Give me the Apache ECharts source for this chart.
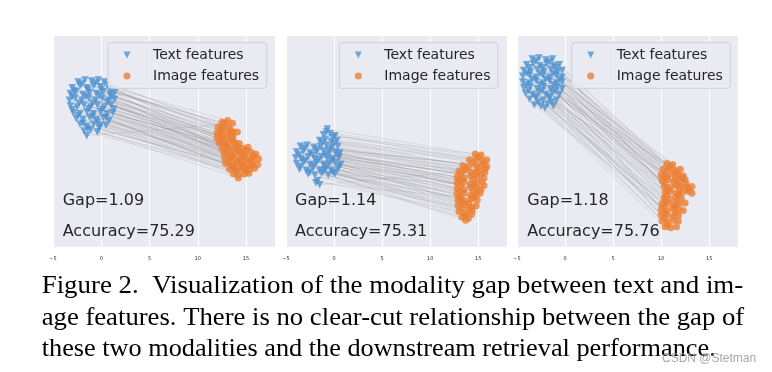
<!DOCTYPE html>
<html><head><meta charset="utf-8">
<script src="https://cdn.jsdelivr.net/npm/echarts@6/dist/echarts.min.js"></script>
<style>html,body{margin:0;padding:0;background:#fff}#c{width:772px;height:372px}</style>
</head><body><div id="c"></div>
<script>
// ---------- data ----------
const xTicks = [-5, 0, 5, 10, 15];
const seriesNames = ['Text features', 'Image features'];
const gapLabels = ['Gap=1.09', 'Gap=1.14', 'Gap=1.18'];
const accLabels = ['Accuracy=75.29', 'Accuracy=75.31', 'Accuracy=75.76'];

const p1Text = [
 [-2.4,17.2],[-1.7,17.4],[-1.0,17.3],[-0.3,17.4],[0.3,17.2],
 [-3.0,16.6],[-2.2,16.8],[-1.5,16.6],[-0.8,16.8],[-0.1,16.7],[0.6,16.9],[1.1,16.5],
 [-3.2,16.0],[-2.6,16.2],[-1.9,15.9],[-1.2,16.1],[-0.5,16.0],[0.2,16.2],[0.9,15.9],[1.4,16.1],
 [-3.3,15.3],[-2.7,15.5],[-2.0,15.3],[-1.3,15.5],[-0.6,15.3],[0.1,15.5],[0.8,15.3],[1.4,15.4],
 [-3.2,14.7],[-2.5,14.6],[-1.8,14.8],[-1.1,14.6],[-0.4,14.8],[0.3,14.6],[1.0,14.8],[1.3,14.4],
 [-2.9,14.0],[-2.2,13.9],[-1.5,14.1],[-0.8,13.9],[-0.1,14.1],[0.6,13.9],[1.2,14.0],
 [-2.6,13.4],[-1.9,13.3],[-1.2,13.5],[-0.5,13.3],[0.2,13.5],[0.8,13.2],
 [-2.2,12.8],[-1.5,12.6],[-0.8,12.8],[-0.1,12.7],[0.5,12.7],
 [-1.8,12.1],[-1.1,12.2],[-0.4,12.0],
 [-1.5,11.6],
 [-2.0,17.0],[-0.6,17.1],[0.9,16.4],[-2.8,16.3],[-1.4,16.4],[0.0,16.4],[-3.0,15.7],[-1.6,15.7],
 [-0.2,15.8],[1.1,15.7],[-2.3,15.0],[-0.9,15.0],[0.6,15.1],[-3.0,14.3],[-1.3,14.4],[0.1,14.3],
 [-2.4,13.7],[-0.9,13.6],[0.5,13.5],[-1.9,12.9],[-0.4,13.0],[-1.4,12.3],[-0.2,12.4]
];
const p1Image = [
 [12.5,13.0],[13.1,13.2],
 [12.1,12.5],[12.65,12.6],[13.2,12.5],
 [12.0,11.9],[12.55,12.1],[13.1,11.9],[13.65,12.0],[14.1,12.0],
 [12.0,11.4],[12.55,11.5],[13.1,11.4],[13.65,11.5],
 [12.2,10.9],[12.75,10.8],[13.3,11.0],[13.85,10.9],[14.3,10.8],
 [12.5,10.3],[13.05,10.4],[13.6,10.3],[14.15,10.4],[14.7,10.3],[15.2,10.4],
 [12.7,9.8],[13.3,9.7],[13.8,9.9],[14.4,9.8],[14.9,9.7],[15.5,9.9],[16.0,9.7],
 [12.8,9.2],[13.4,9.3],[13.9,9.2],[14.5,9.3],[15.0,9.2],[15.6,9.3],[16.3,9.2],
 [12.9,8.7],[13.5,8.6],[14.0,8.8],[14.6,8.7],[15.1,8.6],[15.7,8.8],[16.2,8.6],
 [13.3,8.1],[13.8,8.2],[14.3,8.1],[14.9,8.2],[15.4,8.1],[15.9,8.2],
 [13.7,7.6],[14.2,7.5],[14.8,7.6],[15.3,7.7],
 [14.2,7.2],[13.6,12.9],
 [12.8,12.9],[12.4,12.2],[13.4,12.2],[12.3,11.6],[13.4,11.7],[12.5,11.1],[13.6,11.2],[12.9,10.6],
 [14.0,10.6],[13.0,10.0],[14.2,10.1],[15.0,10.1],[13.6,9.5],[14.7,9.5],[15.8,9.5],[13.2,9.0],
 [14.3,8.9],[15.4,9.0],[13.6,8.4],[14.6,8.4],[15.6,8.5],[14.0,7.9],[15.0,7.9]
];

const p2Text = [
 [-0.7,12.3],
 [-1.1,11.7],[-0.4,11.8],[0.1,11.6],
 [-1.5,11.1],[-0.9,11.2],[-0.3,11.0],[0.3,11.1],
 [-3.5,10.5],[-2.8,10.6],[-2.1,10.4],[-1.4,10.5],[-0.8,10.6],[-0.2,10.4],[0.4,10.5],
 [-3.9,9.9],[-3.2,10.0],[-2.5,9.8],[-1.8,9.9],[-1.1,10.0],[-0.5,9.8],[0.1,9.9],[0.6,9.8],
 [-4.0,9.3],[-3.4,9.2],[-2.7,9.4],[-2.0,9.2],[-1.3,9.4],[-0.7,9.3],[-0.1,9.2],[0.5,9.3],
 [-3.9,8.7],[-3.2,8.8],[-2.5,8.6],[-1.8,8.8],[-1.1,8.6],[-0.5,8.7],[0.1,8.8],[0.7,8.6],
 [-3.6,8.1],[-2.9,8.0],[-2.2,8.2],[-1.5,8.0],[-0.9,8.1],[-0.3,8.0],[0.4,8.1],
 [-2.7,7.6],[-2.0,7.5],[-1.3,7.7],[-0.6,7.5],[0.1,7.6],
 [-1.9,6.7],[-1.5,6.5],
 [-0.8,12.0],[-0.1,11.4],[-1.2,10.9],[0.0,10.8],[-3.1,10.3],[-1.8,10.2],[-0.5,10.2],[-3.6,9.6],
 [-2.2,9.6],[-0.9,9.6],[0.4,9.6],[-3.0,9.0],[-1.6,9.1],[-0.3,9.0],[-3.5,8.4],[-2.1,8.5],
 [-0.8,8.4],[0.5,8.4],[-2.5,7.8],[-1.1,7.9],[-0.1,7.8],[-1.7,6.9]
];
const p2Image = [
 [14.7,9.7],[15.3,9.6],
 [14.1,9.1],[14.8,9.2],[15.4,9.0],[15.9,9.1],
 [13.4,8.5],[14.0,8.4],[14.7,8.6],[15.3,8.5],[15.9,8.4],
 [13.0,7.9],[13.6,8.0],[14.3,7.8],[15.0,7.9],[15.7,7.8],
 [12.8,7.3],[13.5,7.2],[14.2,7.4],[14.9,7.3],[15.6,7.2],
 [12.8,6.7],[13.5,6.8],[14.2,6.6],[14.9,6.7],[15.4,6.8],
 [12.8,6.1],[13.5,6.0],[14.2,6.2],[14.9,6.1],[15.3,6.0],
 [12.8,5.5],[13.5,5.6],[14.2,5.4],[14.8,5.5],[15.2,5.6],
 [12.9,4.9],[13.6,4.8],[14.3,5.0],[14.9,4.9],
 [12.9,4.3],[13.6,4.4],[14.3,4.2],[14.8,4.3],
 [13.0,3.7],[13.7,3.6],[14.4,3.8],
 [13.3,3.1],[14.0,3.0],
 [13.7,2.8],[15.6,6.4],[13.1,5.2],[15.7,8.1],
 [15.0,9.4],[14.4,8.8],[15.6,8.8],[13.7,8.2],[14.9,8.2],[13.2,7.6],[14.6,7.6],[15.3,7.6],
 [13.1,7.0],[14.5,7.0],[13.2,6.4],[14.6,6.4],[13.1,5.8],[14.5,5.8],[13.2,5.1],[14.6,5.2],
 [13.3,4.6],[14.0,4.6],[13.3,4.0],[14.1,4.0],[13.6,3.3],[14.3,3.4]
];

const p3Text = [
 [-3.4,19.6],[-2.7,19.7],[-2.0,19.5],[-1.3,19.6],
 [-4.0,19.0],[-3.3,19.1],[-2.6,18.9],[-1.9,19.1],[-1.2,18.9],[-0.6,19.0],
 [-4.3,18.4],[-3.6,18.3],[-2.9,18.5],[-2.2,18.3],[-1.5,18.5],[-0.8,18.3],[-0.3,18.4],
 [-4.4,17.8],[-3.7,17.9],[-3.0,17.7],[-2.3,17.9],[-1.6,17.7],[-0.9,17.9],[-0.3,17.7],
 [-4.4,17.2],[-3.7,17.1],[-3.0,17.3],[-2.3,17.1],[-1.6,17.3],[-0.9,17.1],[-0.3,17.2],
 [-4.3,16.6],[-3.6,16.7],[-2.9,16.5],[-2.2,16.7],[-1.5,16.5],[-0.8,16.7],[-0.3,16.5],
 [-4.1,16.0],[-3.4,15.9],[-2.7,16.1],[-2.0,15.9],[-1.3,16.1],[-0.6,15.9],
 [-3.7,15.4],[-3.0,15.5],[-2.3,15.3],[-1.6,15.5],[-0.9,15.3],
 [-3.2,14.8],[-2.5,14.7],[-1.8,14.9],[-1.2,14.7],
 [-3.0,19.4],[-1.6,19.3],[-3.7,18.7],[-2.3,18.7],[-0.9,18.7],[-4.0,18.1],[-2.6,18.1],[-1.2,18.1],
 [-3.4,17.5],[-2.0,17.5],[-0.6,17.5],[-4.0,16.9],[-2.6,16.9],[-1.2,16.9],[-3.8,16.3],[-2.4,16.3],
 [-1.0,16.3],[-3.1,15.7],[-1.7,15.7],[-2.8,15.1],[-1.4,15.1],[-2.1,14.5]
];
const p3Image = [
 [10.6,8.7],[11.2,8.6],
 [10.2,8.1],[10.8,8.2],[11.4,8.0],[12.0,8.1],
 [10.0,7.5],[10.6,7.4],[11.2,7.6],[11.8,7.5],[12.3,7.4],
 [10.1,6.9],[10.7,7.0],[11.3,6.8],[11.9,6.9],[12.5,7.0],
 [10.3,6.3],[10.9,6.2],[11.5,6.4],[12.1,6.3],[12.7,6.2],[13.2,6.3],
 [10.4,5.7],[11.0,5.8],[11.6,5.6],[12.2,5.7],[12.8,5.8],[13.2,5.6],
 [10.3,5.1],[10.9,5.0],[11.5,5.2],[12.1,5.1],
 [10.1,4.5],[10.7,4.6],[11.3,4.4],[11.9,4.5],[12.5,4.6],
 [10.0,3.9],[10.6,3.8],[11.2,4.0],[11.8,3.9],[12.3,3.8],
 [10.0,3.3],[10.6,3.4],[11.2,3.2],[11.8,3.3],
 [10.1,2.7],[10.7,2.6],[11.3,2.8],[11.8,2.7],
 [10.4,2.1],[11.0,2.0],[11.6,2.1],
 [10.9,8.4],[10.5,7.8],[11.6,7.8],[10.3,7.2],[11.5,7.2],[12.2,7.2],[10.4,6.6],[11.6,6.6],
 [12.6,6.6],[10.7,6.0],[11.9,6.0],[12.9,6.0],[10.6,5.4],[11.8,5.4],[10.4,4.8],[11.6,4.8],
 [10.3,4.2],[11.5,4.2],[10.3,3.6],[11.5,3.6],[10.4,3.0],[10.7,2.3]
];

const captionLines = [
 'Figure 2.  Visualization of the modality gap between text and im-',
 'age features. There is no clear-cut relationship between the gap of',
 'these two modalities and the downstream retrieval performance.'
];
const watermark = 'CSDN @Stetman';

// ---------- layout / style ----------
const panels = [
 {text: p1Text, image: p1Image, left: 53, width: 222, legendLeft: 108, labelX: 62.7},
 {text: p2Text, image: p2Image, left: 286, width: 221, legendLeft: 339.3, labelX: 295},
 {text: p3Text, image: p3Image, left: 517, width: 221, legendLeft: 571.7, labelX: 527.3}
];
const BLUE = '#4F92D0', ORANGE = '#EC7F33';
const TRI = 'path://M0,0L10,0L5,10Z';

const grid = [], xAxis = [], yAxis = [], series = [], legend = [], graphic = [];
panels.forEach((p, i) => {
  grid.push({left: p.left, top: 36, width: p.width, height: 211, show: true,
    backgroundColor: '#EAEAF2', borderWidth: 0});
  xAxis.push({gridIndex: i, type: 'value', min: xTicks[0], max: 18, interval: 5,
    axisLine: {show: false}, axisTick: {show: false},
    splitLine: {show: true, lineStyle: {color: '#ffffff', width: 1}},
    axisLabel: {fontSize: 5, color: '#262626', margin: 9, showMaxLabel: false,
      fontFamily: 'DejaVu Sans',
      formatter: v => (xTicks.indexOf(v) < 0 ? '' : (v < 0 ? '\u2212' + (-v) : String(v)))}});
  yAxis.push({gridIndex: i, type: 'value', min: 0, max: 22, show: false});
  const n = Math.min(p.text.length, p.image.length);
  const links = [];
  for (let j = 0; j < n; j++) links.push({coords: [p.text[j], p.image[j]]});
  series.push({type: 'lines', coordinateSystem: 'cartesian2d', xAxisIndex: i, yAxisIndex: i,
    polyline: false, data: links, silent: true, z: 1,
    lineStyle: {color: '#6e6e6e', width: 0.6, opacity: 0.26}});
  series.push({type: 'scatter', name: seriesNames[0], xAxisIndex: i, yAxisIndex: i,
    data: p.text, symbol: TRI, symbolSize: 7.5, itemStyle: {color: BLUE}, z: 3});
  series.push({type: 'scatter', name: seriesNames[1], xAxisIndex: i, yAxisIndex: i,
    data: p.image, symbol: 'circle', symbolSize: 7, itemStyle: {color: ORANGE}, z: 3});
  legend.push({left: p.legendLeft, top: 42.7, orient: 'vertical',
    data: [{name: seriesNames[0], icon: TRI}, {name: seriesNames[1], icon: 'circle'}],
    itemWidth: 7, itemHeight: 7, itemGap: 7,
    padding: [5.3, 7.6, 5.3, 15.5],
    backgroundColor: 'rgba(234,234,242,0.85)', borderColor: '#cfcfd8', borderWidth: 1, borderRadius: 3,
    textStyle: {fontSize: 14, fontFamily: 'DejaVu Sans', color: '#262626', lineHeight: 14,
      padding: [0, 0, 0, 17.5]}});
  graphic.push({type: 'text', x: p.labelX, y: 201, z: 10,
    style: {text: gapLabels[i], fontSize: 16, fontFamily: 'DejaVu Sans', fill: '#262626', verticalAlign: 'middle'}});
  graphic.push({type: 'text', x: p.labelX, y: 232, z: 10,
    style: {text: accLabels[i], fontSize: 16, fontFamily: 'DejaVu Sans', fill: '#262626', verticalAlign: 'middle'}});
});

// caption: justified lines
const ctx = document.createElement('canvas').getContext('2d');
const capFont = '25px "Liberation Serif"';
ctx.font = capFont;
const lastW = ctx.measureText(captionLines[2]).width;
const baseScale = 674 / lastW;
const capTargets = [701.5, 702.5, null];
const capY = [286.5, 318, 349];
captionLines.forEach((t, k) => {
  const w = ctx.measureText(t).width;
  const s = capTargets[k] ? capTargets[k] / w : baseScale;
  graphic.push({type: 'text', x: 41.7, y: capY[k], scaleX: s, z: 10,
    style: {text: t, fontSize: 25, fontFamily: 'Liberation Serif', fill: '#000', verticalAlign: 'middle'}});
});
graphic.push({type: 'text', x: 662, y: 359, z: 11,
  style: {text: watermark, fontSize: 12, fontFamily: 'Liberation Sans', fill: 'rgba(150,150,150,0.85)',
    verticalAlign: 'middle'}});

const chart = echarts.init(document.getElementById('c'), null, {renderer: 'canvas'});
chart.setOption({animation: false, grid, xAxis, yAxis, series, legend, graphic});
</script></body></html>
